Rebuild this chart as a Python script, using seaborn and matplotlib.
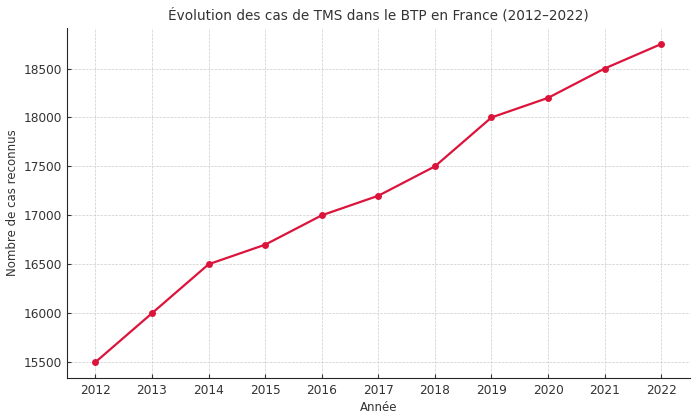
import pandas as pd
import matplotlib
matplotlib.use("Agg")
import matplotlib.pyplot as plt
import seaborn as sns

# Data
annees = [2012, 2013, 2014, 2015, 2016, 2017, 2018, 2019, 2020, 2021, 2022]
cas_tms = [15500, 16000, 16500, 16700, 17000, 17200, 17500, 18000, 18200, 18500, 18750]

df = pd.DataFrame({"Année": annees, "Cas": cas_tms})

sns.set_style("ticks")
plt.rcParams['font.family'] = ['DejaVu Sans']

fig, ax = plt.subplots(figsize=(7, 4.2), dpi=100)
sns.lineplot(x="Année", y="Cas", data=df, marker="o", color="crimson",
             linewidth=1.6, markersize=5, markeredgewidth=0, ax=ax)

ax.set_title("Évolution des cas de TMS dans le BTP en France (2012–2022)",
             fontsize=9.8, color="#333333")
ax.set_xlabel("Année", fontsize=8.5, color="#333333", labelpad=3)
ax.set_ylabel("Nombre de cas reconnus", fontsize=8.5, color="#333333", labelpad=3)
ax.set_xticks(annees)
ax.set_yticks([15500, 16000, 16500, 17000, 17500, 18000, 18500])
ax.tick_params(labelsize=8.7, colors="#333333", direction="in", length=3, pad=4)
ax.grid(True, linestyle="--", linewidth=0.5, color="#cccccc")
sns.despine(ax=ax)

plt.subplots_adjust(left=0.096, right=0.985, top=0.933, bottom=0.1)
fig.savefig("out.png", dpi=100)
